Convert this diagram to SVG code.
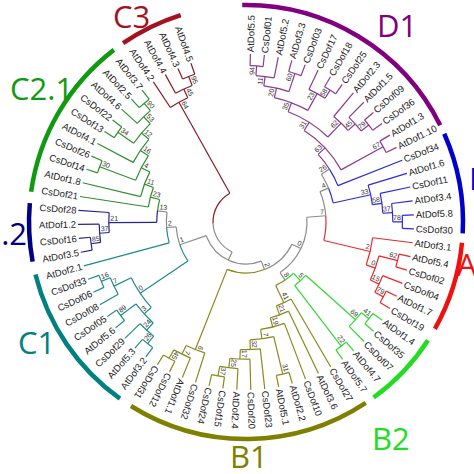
<svg xmlns="http://www.w3.org/2000/svg" width="474" height="474" viewBox="0 0 474 474">
<style>
.lf{font-family:"Liberation Sans",Arial,sans-serif;font-size:9.5px;fill:#222}
.le{text-anchor:end}
.bs{font-family:"Liberation Sans",Arial,sans-serif;font-size:7px;fill:#333;text-anchor:end}
.bl{text-anchor:start}
.gl{font-family:"Open Sans","Liberation Sans",sans-serif;font-size:31px}
circle{fill:none}
#connectors line,#connectors circle{stroke-width:1.2}
#markers circle{stroke-width:4.5}
.p{stroke:#8E3A8E}.b{stroke:#2B2BD9}.k{stroke:#8C8C8C}.r{stroke:#E8292B}.g{stroke:#33D633}
.o{stroke:#8A8A1C}.t{stroke:#1F8A8A}.n{stroke:#252590}.e{stroke:#2E8F2E}.c{stroke:#8B1A22}
</style>
<rect width="474" height="474" fill="#fff"/>
<g id="connectors" transform="translate(246,222)">
<g class="p">
<circle r="156.4" pathLength="360" stroke-dasharray="4.78 999" transform="rotate(-88.5)"/>
<circle r="146.8" pathLength="360" stroke-dasharray="7.17 999" transform="rotate(-86.11)"/>
<circle r="156.4" pathLength="360" stroke-dasharray="4.78 999" transform="rotate(-74.16)"/>
<circle r="137.2" pathLength="360" stroke-dasharray="10.755 999" transform="rotate(-82.525)"/>
<circle r="156.4" pathLength="360" stroke-dasharray="4.78 999" transform="rotate(-59.82)"/>
<circle r="146.8" pathLength="360" stroke-dasharray="7.17 999" transform="rotate(-64.6)"/>
<circle r="127.6" pathLength="360" stroke-dasharray="16.14 999" transform="rotate(-77.15)"/>
<circle r="156.4" pathLength="360" stroke-dasharray="4.78 999" transform="rotate(-40.7)"/>
<circle r="146.8" pathLength="360" stroke-dasharray="7.17 999" transform="rotate(-45.48)"/>
<circle r="137.2" pathLength="360" stroke-dasharray="8.36 999" transform="rotate(-50.26)"/>
<circle r="118" pathLength="360" stroke-dasharray="23 999" transform="rotate(-69.08)"/>
<circle r="156.4" pathLength="360" stroke-dasharray="4.78 999" transform="rotate(-31.14)"/>
<circle r="108.4" pathLength="360" stroke-dasharray="28.83 999" transform="rotate(-57.58)"/>
<circle r="98.8" pathLength="360" stroke-dasharray="10.79 999" transform="rotate(-43.16)"/>
<line y1="-156.4" y2="-168" transform="rotate(1.5)"/>
<line y1="-156.4" y2="-168" transform="rotate(6.28)"/>
<line y1="-146.8" y2="-156.4" transform="rotate(3.89)"/>
<line y1="-146.8" y2="-168" transform="rotate(11.06)"/>
<line y1="-156.4" y2="-168" transform="rotate(15.84)"/>
<line y1="-156.4" y2="-168" transform="rotate(20.62)"/>
<line y1="-137.2" y2="-146.8" transform="rotate(7.475)"/>
<line y1="-137.2" y2="-156.4" transform="rotate(18.23)"/>
<line y1="-156.4" y2="-168" transform="rotate(30.18)"/>
<line y1="-156.4" y2="-168" transform="rotate(34.96)"/>
<line y1="-146.8" y2="-168" transform="rotate(25.4)"/>
<line y1="-146.8" y2="-156.4" transform="rotate(32.57)"/>
<line y1="-127.6" y2="-137.2" transform="rotate(12.85)"/>
<line y1="-127.6" y2="-146.8" transform="rotate(28.99)"/>
<line y1="-156.4" y2="-168" transform="rotate(49.3)"/>
<line y1="-156.4" y2="-168" transform="rotate(54.08)"/>
<line y1="-146.8" y2="-168" transform="rotate(44.52)"/>
<line y1="-146.8" y2="-156.4" transform="rotate(51.69)"/>
<line y1="-137.2" y2="-168" transform="rotate(39.74)"/>
<line y1="-137.2" y2="-146.8" transform="rotate(48.1)"/>
<line y1="-118" y2="-127.6" transform="rotate(20.92)"/>
<line y1="-118" y2="-137.2" transform="rotate(43.92)"/>
<line y1="-156.4" y2="-168" transform="rotate(58.86)"/>
<line y1="-156.4" y2="-168" transform="rotate(63.64)"/>
<line y1="-108.4" y2="-118" transform="rotate(32.42)"/>
<line y1="-108.4" y2="-156.4" transform="rotate(61.25)"/>
<line y1="-98.8" y2="-108.4" transform="rotate(46.84)"/>
</g>
<g class="b">
<circle r="98.8" pathLength="360" stroke-dasharray="10.79 999" transform="rotate(-32.37)"/>
<circle r="156.4" pathLength="360" stroke-dasharray="4.78 999" transform="rotate(-2.46)"/>
<circle r="146.8" pathLength="360" stroke-dasharray="7.17 999" transform="rotate(-7.24)"/>
<circle r="137.2" pathLength="360" stroke-dasharray="8.37 999" transform="rotate(-12.02)"/>
<circle r="127.6" pathLength="360" stroke-dasharray="8.96 999" transform="rotate(-16.8)"/>
<circle r="89.2" pathLength="360" stroke-dasharray="10.02 999" transform="rotate(-22.34)"/>
<line y1="-98.8" y2="-168" transform="rotate(68.42)"/>
<line y1="-156.4" y2="-168" transform="rotate(87.54)"/>
<line y1="-156.4" y2="-168" transform="rotate(92.32)"/>
<line y1="-146.8" y2="-168" transform="rotate(82.76)"/>
<line y1="-146.8" y2="-156.4" transform="rotate(89.93)"/>
<line y1="-137.2" y2="-168" transform="rotate(77.98)"/>
<line y1="-137.2" y2="-146.8" transform="rotate(86.35)"/>
<line y1="-127.6" y2="-168" transform="rotate(73.2)"/>
<line y1="-127.6" y2="-137.2" transform="rotate(82.16)"/>
<line y1="-89.2" y2="-127.6" transform="rotate(77.68)"/>
</g>
<g class="k">
<circle r="89.2" pathLength="360" stroke-dasharray="10.03 999" transform="rotate(-32.37)"/>
<circle r="80" pathLength="360" stroke-dasharray="17.86 999" transform="rotate(-22.34)"/>
<circle r="61" pathLength="360" stroke-dasharray="60.5 999" transform="rotate(-4.48)"/>
<circle r="51" pathLength="360" stroke-dasharray="42.95 999" transform="rotate(25.77)"/>
<circle r="79.6" pathLength="360" stroke-dasharray="11.18 999" transform="rotate(176.02)"/>
<circle r="70" pathLength="360" stroke-dasharray="14.99 999" transform="rotate(161.03)"/>
<circle r="42" pathLength="360" stroke-dasharray="92.31 999" transform="rotate(68.72)"/>
<circle r="33" pathLength="360" stroke-dasharray="62.92 999" transform="rotate(114.88)"/>
<line y1="-89.2" y2="-98.8" transform="rotate(57.63)"/>
<line y1="-80" y2="-89.2" transform="rotate(67.66)"/>
<line y1="-61" y2="-80" transform="rotate(85.52)"/>
<line y1="-61" y2="-70" transform="rotate(146.02)"/>
<line y1="-51" y2="-61" transform="rotate(115.77)"/>
<line y1="-79.6" y2="-89.2" transform="rotate(277.2)"/>
<line y1="-70" y2="-79.6" transform="rotate(266.02)"/>
<line y1="-42" y2="-51" transform="rotate(158.72)"/>
<line y1="-42" y2="-70" transform="rotate(251.03)"/>
<line y1="-33" y2="-42" transform="rotate(204.88)"/>
</g>
<g class="r">
<circle r="80" pathLength="360" stroke-dasharray="17.86 999" transform="rotate(-4.48)"/>
<circle r="156.4" pathLength="360" stroke-dasharray="4.78 999" transform="rotate(11.88)"/>
<circle r="156.4" pathLength="360" stroke-dasharray="4.78 999" transform="rotate(26.22)"/>
<circle r="146.8" pathLength="360" stroke-dasharray="7.17 999" transform="rotate(21.44)"/>
<circle r="137.2" pathLength="360" stroke-dasharray="10.76 999" transform="rotate(14.27)"/>
<circle r="127.6" pathLength="360" stroke-dasharray="12.55 999" transform="rotate(7.1)"/>
<line y1="-80" y2="-127.6" transform="rotate(103.38)"/>
<line y1="-156.4" y2="-168" transform="rotate(101.88)"/>
<line y1="-156.4" y2="-168" transform="rotate(106.66)"/>
<line y1="-156.4" y2="-168" transform="rotate(116.22)"/>
<line y1="-156.4" y2="-168" transform="rotate(121)"/>
<line y1="-146.8" y2="-168" transform="rotate(111.44)"/>
<line y1="-146.8" y2="-156.4" transform="rotate(118.61)"/>
<line y1="-137.2" y2="-156.4" transform="rotate(104.27)"/>
<line y1="-137.2" y2="-146.8" transform="rotate(115.03)"/>
<line y1="-127.6" y2="-168" transform="rotate(97.1)"/>
<line y1="-127.6" y2="-137.2" transform="rotate(109.65)"/>
</g>
<g class="g">
<circle r="70" pathLength="360" stroke-dasharray="8.88 999" transform="rotate(47.14)"/>
<circle r="156.4" pathLength="360" stroke-dasharray="4.78 999" transform="rotate(35.78)"/>
<circle r="146.8" pathLength="360" stroke-dasharray="7.17 999" transform="rotate(38.17)"/>
<circle r="156.4" pathLength="360" stroke-dasharray="4.78 999" transform="rotate(50.12)"/>
<circle r="80" pathLength="360" stroke-dasharray="10.75 999" transform="rotate(41.76)"/>
<line y1="-70" y2="-80" transform="rotate(137.14)"/>
<line y1="-156.4" y2="-168" transform="rotate(125.78)"/>
<line y1="-156.4" y2="-168" transform="rotate(130.56)"/>
<line y1="-146.8" y2="-156.4" transform="rotate(128.17)"/>
<line y1="-146.8" y2="-168" transform="rotate(135.34)"/>
<line y1="-156.4" y2="-168" transform="rotate(140.12)"/>
<line y1="-156.4" y2="-168" transform="rotate(144.9)"/>
<line y1="-80" y2="-146.8" transform="rotate(131.76)"/>
<line y1="-80" y2="-156.4" transform="rotate(142.51)"/>
</g>
<g class="o">
<circle r="70" pathLength="360" stroke-dasharray="8.87 999" transform="rotate(56.02)"/>
<circle r="156.4" pathLength="360" stroke-dasharray="4.78 999" transform="rotate(97.92)"/>
<circle r="146.8" pathLength="360" stroke-dasharray="7.17 999" transform="rotate(93.14)"/>
<circle r="137.2" pathLength="360" stroke-dasharray="8.37 999" transform="rotate(88.36)"/>
<circle r="127.6" pathLength="360" stroke-dasharray="8.97 999" transform="rotate(83.58)"/>
<circle r="156.4" pathLength="360" stroke-dasharray="4.78 999" transform="rotate(74.02)"/>
<circle r="118" pathLength="360" stroke-dasharray="11.66 999" transform="rotate(76.41)"/>
<circle r="108.4" pathLength="360" stroke-dasharray="13 999" transform="rotate(69.24)"/>
<circle r="98.8" pathLength="360" stroke-dasharray="11.28 999" transform="rotate(64.46)"/>
<circle r="89.2" pathLength="360" stroke-dasharray="10.42 999" transform="rotate(59.68)"/>
<circle r="156.4" pathLength="360" stroke-dasharray="4.78 999" transform="rotate(117.04)"/>
<circle r="146.8" pathLength="360" stroke-dasharray="7.17 999" transform="rotate(112.26)"/>
<circle r="137.2" pathLength="360" stroke-dasharray="8.37 999" transform="rotate(107.48)"/>
<circle r="51" pathLength="360" stroke-dasharray="42.95 999" transform="rotate(68.72)"/>
<line y1="-70" y2="-89.2" transform="rotate(154.89)"/>
<line y1="-156.4" y2="-168" transform="rotate(187.92)"/>
<line y1="-156.4" y2="-168" transform="rotate(192.7)"/>
<line y1="-146.8" y2="-168" transform="rotate(183.14)"/>
<line y1="-146.8" y2="-156.4" transform="rotate(190.31)"/>
<line y1="-137.2" y2="-168" transform="rotate(178.36)"/>
<line y1="-137.2" y2="-146.8" transform="rotate(186.73)"/>
<line y1="-127.6" y2="-168" transform="rotate(173.58)"/>
<line y1="-127.6" y2="-137.2" transform="rotate(182.55)"/>
<line y1="-156.4" y2="-168" transform="rotate(164.02)"/>
<line y1="-156.4" y2="-168" transform="rotate(168.8)"/>
<line y1="-118" y2="-156.4" transform="rotate(166.41)"/>
<line y1="-118" y2="-127.6" transform="rotate(178.07)"/>
<line y1="-108.4" y2="-168" transform="rotate(159.24)"/>
<line y1="-108.4" y2="-118" transform="rotate(172.24)"/>
<line y1="-98.8" y2="-168" transform="rotate(154.46)"/>
<line y1="-98.8" y2="-108.4" transform="rotate(165.74)"/>
<line y1="-89.2" y2="-168" transform="rotate(149.68)"/>
<line y1="-89.2" y2="-98.8" transform="rotate(160.1)"/>
<line y1="-156.4" y2="-168" transform="rotate(207.04)"/>
<line y1="-156.4" y2="-168" transform="rotate(211.82)"/>
<line y1="-146.8" y2="-168" transform="rotate(202.26)"/>
<line y1="-146.8" y2="-156.4" transform="rotate(209.43)"/>
<line y1="-137.2" y2="-168" transform="rotate(197.48)"/>
<line y1="-137.2" y2="-146.8" transform="rotate(205.85)"/>
<line y1="-51" y2="-137.2" transform="rotate(201.67)"/>
</g>
<g class="t">
<circle r="156.4" pathLength="360" stroke-dasharray="4.78 999" transform="rotate(126.6)"/>
<circle r="146.8" pathLength="360" stroke-dasharray="7.17 999" transform="rotate(128.99)"/>
<circle r="156.4" pathLength="360" stroke-dasharray="4.78 999" transform="rotate(140.94)"/>
<circle r="137.2" pathLength="360" stroke-dasharray="10.75 999" transform="rotate(132.58)"/>
<circle r="156.4" pathLength="360" stroke-dasharray="4.78 999" transform="rotate(155.28)"/>
<circle r="146.8" pathLength="360" stroke-dasharray="7.17 999" transform="rotate(150.5)"/>
<circle r="127.6" pathLength="360" stroke-dasharray="16.13 999" transform="rotate(137.96)"/>
<circle r="79.6" pathLength="360" stroke-dasharray="11.18 999" transform="rotate(164.84)"/>
<circle r="70" pathLength="360" stroke-dasharray="15 999" transform="rotate(146.03)"/>
<line y1="-156.4" y2="-168" transform="rotate(216.6)"/>
<line y1="-156.4" y2="-168" transform="rotate(221.38)"/>
<line y1="-146.8" y2="-156.4" transform="rotate(218.99)"/>
<line y1="-146.8" y2="-168" transform="rotate(226.16)"/>
<line y1="-156.4" y2="-168" transform="rotate(230.94)"/>
<line y1="-156.4" y2="-168" transform="rotate(235.72)"/>
<line y1="-137.2" y2="-146.8" transform="rotate(222.58)"/>
<line y1="-137.2" y2="-156.4" transform="rotate(233.33)"/>
<line y1="-156.4" y2="-168" transform="rotate(245.28)"/>
<line y1="-156.4" y2="-168" transform="rotate(250.06)"/>
<line y1="-146.8" y2="-168" transform="rotate(240.5)"/>
<line y1="-146.8" y2="-156.4" transform="rotate(247.67)"/>
<line y1="-127.6" y2="-137.2" transform="rotate(227.96)"/>
<line y1="-127.6" y2="-146.8" transform="rotate(244.09)"/>
<line y1="-79.6" y2="-168" transform="rotate(254.84)"/>
<line y1="-70" y2="-127.6" transform="rotate(236.03)"/>
</g>
<g class="n">
<circle r="156.4" pathLength="360" stroke-dasharray="4.78 999" transform="rotate(169.62)"/>
<circle r="146.8" pathLength="360" stroke-dasharray="7.17 999" transform="rotate(172.01)"/>
<circle r="137.2" pathLength="360" stroke-dasharray="8.36 999" transform="rotate(175.6)"/>
<circle r="89.2" pathLength="360" stroke-dasharray="7.42 999" transform="rotate(179.78)"/>
<line y1="-156.4" y2="-168" transform="rotate(259.62)"/>
<line y1="-156.4" y2="-168" transform="rotate(264.4)"/>
<line y1="-146.8" y2="-156.4" transform="rotate(262.01)"/>
<line y1="-146.8" y2="-168" transform="rotate(269.18)"/>
<line y1="-137.2" y2="-146.8" transform="rotate(265.6)"/>
<line y1="-137.2" y2="-168" transform="rotate(273.96)"/>
<line y1="-89.2" y2="-137.2" transform="rotate(269.78)"/>
</g>
<g class="e">
<circle r="156.4" pathLength="360" stroke-dasharray="4.78 999" transform="rotate(198.3)"/>
<circle r="156.4" pathLength="360" stroke-dasharray="4.78 999" transform="rotate(212.64)"/>
<circle r="156.4" pathLength="360" stroke-dasharray="4.78 999" transform="rotate(226.98)"/>
<circle r="146.8" pathLength="360" stroke-dasharray="7.17 999" transform="rotate(222.2)"/>
<circle r="137.2" pathLength="360" stroke-dasharray="10.76 999" transform="rotate(215.03)"/>
<circle r="127.6" pathLength="360" stroke-dasharray="12.55 999" transform="rotate(207.86)"/>
<circle r="118" pathLength="360" stroke-dasharray="13.45 999" transform="rotate(200.69)"/>
<circle r="108.4" pathLength="360" stroke-dasharray="13.9 999" transform="rotate(193.52)"/>
<circle r="98.8" pathLength="360" stroke-dasharray="11.73 999" transform="rotate(188.74)"/>
<circle r="89.2" pathLength="360" stroke-dasharray="7.41 999" transform="rotate(187.2)"/>
<line y1="-156.4" y2="-168" transform="rotate(288.3)"/>
<line y1="-156.4" y2="-168" transform="rotate(293.08)"/>
<line y1="-156.4" y2="-168" transform="rotate(302.64)"/>
<line y1="-156.4" y2="-168" transform="rotate(307.42)"/>
<line y1="-156.4" y2="-168" transform="rotate(316.98)"/>
<line y1="-156.4" y2="-168" transform="rotate(321.76)"/>
<line y1="-146.8" y2="-168" transform="rotate(312.2)"/>
<line y1="-146.8" y2="-156.4" transform="rotate(319.37)"/>
<line y1="-137.2" y2="-156.4" transform="rotate(305.03)"/>
<line y1="-137.2" y2="-146.8" transform="rotate(315.79)"/>
<line y1="-127.6" y2="-168" transform="rotate(297.86)"/>
<line y1="-127.6" y2="-137.2" transform="rotate(310.41)"/>
<line y1="-118" y2="-156.4" transform="rotate(290.69)"/>
<line y1="-118" y2="-127.6" transform="rotate(304.14)"/>
<line y1="-108.4" y2="-168" transform="rotate(283.52)"/>
<line y1="-108.4" y2="-118" transform="rotate(297.42)"/>
<line y1="-98.8" y2="-168" transform="rotate(278.74)"/>
<line y1="-98.8" y2="-108.4" transform="rotate(290.47)"/>
<line y1="-89.2" y2="-98.8" transform="rotate(284.61)"/>
</g>
<g class="c">
<circle r="156.4" pathLength="360" stroke-dasharray="4.78 999" transform="rotate(246.1)"/>
<circle r="146.8" pathLength="360" stroke-dasharray="7.17 999" transform="rotate(241.32)"/>
<circle r="137.2" pathLength="360" stroke-dasharray="8.36 999" transform="rotate(236.54)"/>
<circle r="33" pathLength="360" stroke-dasharray="62.92 999" transform="rotate(177.8)"/>
<line y1="-156.4" y2="-168" transform="rotate(336.1)"/>
<line y1="-156.4" y2="-168" transform="rotate(340.88)"/>
<line y1="-146.8" y2="-168" transform="rotate(331.32)"/>
<line y1="-146.8" y2="-156.4" transform="rotate(338.49)"/>
<line y1="-137.2" y2="-168" transform="rotate(326.54)"/>
<line y1="-137.2" y2="-146.8" transform="rotate(334.9)"/>
<line y1="-33" y2="-137.2" transform="rotate(330.72)"/>
</g>
</g>
<g id="markers" transform="translate(246,222)">
<g id="clade-D1"><circle r="217" pathLength="360" stroke-dasharray="64.5 999" transform="rotate(-91)" stroke="#800080"/></g>
<g id="clade-D2"><circle r="217" pathLength="360" stroke-dasharray="27 999" transform="rotate(-24)" stroke="#0000CC"/></g>
<g id="clade-A"><circle r="217" pathLength="360" stroke-dasharray="24 999" transform="rotate(5.5)" stroke="#EE1111"/></g>
<g id="clade-B2"><circle r="217" pathLength="360" stroke-dasharray="21 999" transform="rotate(33)" stroke="#22DD22"/></g>
<g id="clade-B1"><circle r="217" pathLength="360" stroke-dasharray="65.5 999" transform="rotate(56.5)" stroke="#7F7F00"/></g>
<g id="clade-C1"><circle r="217" pathLength="360" stroke-dasharray="40.5 999" transform="rotate(125.5)" stroke="#008080"/></g>
<g id="clade-C2.2"><circle r="217" pathLength="360" stroke-dasharray="15.5 999" transform="rotate(169.5)" stroke="#000080"/></g>
<g id="clade-C2.1"><circle r="217" pathLength="360" stroke-dasharray="44.5 999" transform="rotate(188)" stroke="#119911"/></g>
<g id="clade-C3"><circle r="217" pathLength="360" stroke-dasharray="17 999" transform="rotate(235.5)" stroke="#A5121F"/></g>
</g>
<g id="clade-labels" class="gl">
<text x="377" y="37" fill="#800080">D1</text>
<text x="469" y="190" fill="#0000CC">D2</text>
<text x="457" y="276" fill="#EE1111">A</text>
<text x="372" y="450" fill="#22DD22">B2</text>
<text x="230" y="468" fill="#7F7F00">B1</text>
<text x="18" y="354" fill="#008080">C1</text>
<text x="27" y="245" fill="#000080" text-anchor="end">C2.2</text>
<text x="10" y="100" fill="#119911">C2.1</text>
<text x="113" y="28" fill="#A5121F">C3</text>
</g>
<g id="leaves" transform="translate(246,222)">
<g id="AtDof5.5"><text class="lf" dy="0.35em" transform="rotate(-88.5) translate(170 0)">AtDof5.5</text></g>
<g id="CsDof01"><text class="lf" dy="0.35em" transform="rotate(-83.72) translate(170 0)">CsDof01</text></g>
<g id="AtDof5.2"><text class="lf" dy="0.35em" transform="rotate(-78.94) translate(170 0)">AtDof5.2</text></g>
<g id="AtDof3.3"><text class="lf" dy="0.35em" transform="rotate(-74.16) translate(170 0)">AtDof3.3</text></g>
<g id="CsDof03"><text class="lf" dy="0.35em" transform="rotate(-69.38) translate(170 0)">CsDof03</text></g>
<g id="CsDof17"><text class="lf" dy="0.35em" transform="rotate(-64.6) translate(170 0)">CsDof17</text></g>
<g id="CsDof18"><text class="lf" dy="0.35em" transform="rotate(-59.82) translate(170 0)">CsDof18</text></g>
<g id="CsDof25"><text class="lf" dy="0.35em" transform="rotate(-55.04) translate(170 0)">CsDof25</text></g>
<g id="AtDof2.3"><text class="lf" dy="0.35em" transform="rotate(-50.26) translate(170 0)">AtDof2.3</text></g>
<g id="AtDof1.5"><text class="lf" dy="0.35em" transform="rotate(-45.48) translate(170 0)">AtDof1.5</text></g>
<g id="CsDof09"><text class="lf" dy="0.35em" transform="rotate(-40.7) translate(170 0)">CsDof09</text></g>
<g id="CsDof36"><text class="lf" dy="0.35em" transform="rotate(-35.92) translate(170 0)">CsDof36</text></g>
<g id="AtDof1.3"><text class="lf" dy="0.35em" transform="rotate(-31.14) translate(170 0)">AtDof1.3</text></g>
<g id="AtDof1.10"><text class="lf" dy="0.35em" transform="rotate(-26.36) translate(170 0)">AtDof1.10</text></g>
<g id="CsDof34"><text class="lf" dy="0.35em" transform="rotate(-21.58) translate(170 0)">CsDof34</text></g>
<g id="AtDof1.6"><text class="lf" dy="0.35em" transform="rotate(-16.8) translate(170 0)">AtDof1.6</text></g>
<g id="CsDof11"><text class="lf" dy="0.35em" transform="rotate(-12.02) translate(170 0)">CsDof11</text></g>
<g id="AtDof3.4"><text class="lf" dy="0.35em" transform="rotate(-7.24) translate(170 0)">AtDof3.4</text></g>
<g id="AtDof5.8"><text class="lf" dy="0.35em" transform="rotate(-2.46) translate(170 0)">AtDof5.8</text></g>
<g id="CsDof30"><text class="lf" dy="0.35em" transform="rotate(2.32) translate(170 0)">CsDof30</text></g>
<g id="AtDof3.1"><text class="lf" dy="0.35em" transform="rotate(7.1) translate(170 0)">AtDof3.1</text></g>
<g id="AtDof5.4"><text class="lf" dy="0.35em" transform="rotate(11.88) translate(170 0)">AtDof5.4</text></g>
<g id="CsDof02"><text class="lf" dy="0.35em" transform="rotate(16.66) translate(170 0)">CsDof02</text></g>
<g id="CsDof04"><text class="lf" dy="0.35em" transform="rotate(21.44) translate(170 0)">CsDof04</text></g>
<g id="AtDof1.7"><text class="lf" dy="0.35em" transform="rotate(26.22) translate(170 0)">AtDof1.7</text></g>
<g id="CsDof19"><text class="lf" dy="0.35em" transform="rotate(31) translate(170 0)">CsDof19</text></g>
<g id="AtDof1.4"><text class="lf" dy="0.35em" transform="rotate(35.78) translate(170 0)">AtDof1.4</text></g>
<g id="CsDof35"><text class="lf" dy="0.35em" transform="rotate(40.56) translate(170 0)">CsDof35</text></g>
<g id="CsDof07"><text class="lf" dy="0.35em" transform="rotate(45.34) translate(170 0)">CsDof07</text></g>
<g id="AtDof4.7"><text class="lf" dy="0.35em" transform="rotate(50.12) translate(170 0)">AtDof4.7</text></g>
<g id="AtDof5.7"><text class="lf" dy="0.35em" transform="rotate(54.9) translate(170 0)">AtDof5.7</text></g>
<g id="CsDof27"><text class="lf" dy="0.35em" transform="rotate(59.68) translate(170 0)">CsDof27</text></g>
<g id="AtDof3.6"><text class="lf" dy="0.35em" transform="rotate(64.46) translate(170 0)">AtDof3.6</text></g>
<g id="CsDof10"><text class="lf" dy="0.35em" transform="rotate(69.24) translate(170 0)">CsDof10</text></g>
<g id="AtDof2.2"><text class="lf" dy="0.35em" transform="rotate(74.02) translate(170 0)">AtDof2.2</text></g>
<g id="AtDof5.1"><text class="lf" dy="0.35em" transform="rotate(78.8) translate(170 0)">AtDof5.1</text></g>
<g id="CsDof23"><text class="lf" dy="0.35em" transform="rotate(83.58) translate(170 0)">CsDof23</text></g>
<g id="CsDof20"><text class="lf" dy="0.35em" transform="rotate(88.36) translate(170 0)">CsDof20</text></g>
<g id="AtDof2.4"><text class="lf" dy="0.35em" transform="rotate(93.14) translate(170 0)">AtDof2.4</text></g>
<g id="CsDof15"><text class="lf" dy="0.35em" transform="rotate(97.92) translate(170 0)">CsDof15</text></g>
<g id="CsDof24"><text class="lf" dy="0.35em" transform="rotate(102.7) translate(170 0)">CsDof24</text></g>
<g id="CsDof32"><text class="lf" dy="0.35em" transform="rotate(107.48) translate(170 0)">CsDof32</text></g>
<g id="AtDof1.1"><text class="lf" dy="0.35em" transform="rotate(112.26) translate(170 0)">AtDof1.1</text></g>
<g id="CsDof12"><text class="lf" dy="0.35em" transform="rotate(117.04) translate(170 0)">CsDof12</text></g>
<g id="CsDof31"><text class="lf" dy="0.35em" transform="rotate(121.82) translate(170 0)">CsDof31</text></g>
<g id="AtDof3.2"><text class="lf le" dy="0.35em" transform="rotate(-53.4) translate(-170 0)">AtDof3.2</text></g>
<g id="AtDof5.3"><text class="lf le" dy="0.35em" transform="rotate(-48.62) translate(-170 0)">AtDof5.3</text></g>
<g id="CsDof29"><text class="lf le" dy="0.35em" transform="rotate(-43.84) translate(-170 0)">CsDof29</text></g>
<g id="AtDof5.6"><text class="lf le" dy="0.35em" transform="rotate(-39.06) translate(-170 0)">AtDof5.6</text></g>
<g id="CsDof05"><text class="lf le" dy="0.35em" transform="rotate(-34.28) translate(-170 0)">CsDof05</text></g>
<g id="CsDof08"><text class="lf le" dy="0.35em" transform="rotate(-29.5) translate(-170 0)">CsDof08</text></g>
<g id="CsDof06"><text class="lf le" dy="0.35em" transform="rotate(-24.72) translate(-170 0)">CsDof06</text></g>
<g id="CsDof33"><text class="lf le" dy="0.35em" transform="rotate(-19.94) translate(-170 0)">CsDof33</text></g>
<g id="AtDof2.1"><text class="lf le" dy="0.35em" transform="rotate(-15.16) translate(-170 0)">AtDof2.1</text></g>
<g id="AtDof3.5"><text class="lf le" dy="0.35em" transform="rotate(-10.38) translate(-170 0)">AtDof3.5</text></g>
<g id="CsDof16"><text class="lf le" dy="0.35em" transform="rotate(-5.6) translate(-170 0)">CsDof16</text></g>
<g id="AtDof1.2"><text class="lf le" dy="0.35em" transform="rotate(-0.82) translate(-170 0)">AtDof1.2</text></g>
<g id="CsDof28"><text class="lf le" dy="0.35em" transform="rotate(3.96) translate(-170 0)">CsDof28</text></g>
<g id="CsDof21"><text class="lf le" dy="0.35em" transform="rotate(8.74) translate(-170 0)">CsDof21</text></g>
<g id="AtDof1.8"><text class="lf le" dy="0.35em" transform="rotate(13.52) translate(-170 0)">AtDof1.8</text></g>
<g id="CsDof14"><text class="lf le" dy="0.35em" transform="rotate(18.3) translate(-170 0)">CsDof14</text></g>
<g id="CsDof26"><text class="lf le" dy="0.35em" transform="rotate(23.08) translate(-170 0)">CsDof26</text></g>
<g id="AtDof4.1"><text class="lf le" dy="0.35em" transform="rotate(27.86) translate(-170 0)">AtDof4.1</text></g>
<g id="CsDof13"><text class="lf le" dy="0.35em" transform="rotate(32.64) translate(-170 0)">CsDof13</text></g>
<g id="CsDof22"><text class="lf le" dy="0.35em" transform="rotate(37.42) translate(-170 0)">CsDof22</text></g>
<g id="AtDof4.6"><text class="lf le" dy="0.35em" transform="rotate(42.2) translate(-170 0)">AtDof4.6</text></g>
<g id="AtDof2.5"><text class="lf le" dy="0.35em" transform="rotate(46.98) translate(-170 0)">AtDof2.5</text></g>
<g id="AtDof3.7"><text class="lf le" dy="0.35em" transform="rotate(51.76) translate(-170 0)">AtDof3.7</text></g>
<g id="AtDof4.2"><text class="lf le" dy="0.35em" transform="rotate(56.54) translate(-170 0)">AtDof4.2</text></g>
<g id="AtDof4.4"><text class="lf le" dy="0.35em" transform="rotate(61.32) translate(-170 0)">AtDof4.4</text></g>
<g id="AtDof4.3"><text class="lf le" dy="0.35em" transform="rotate(66.1) translate(-170 0)">AtDof4.3</text></g>
<g id="AtDof4.5"><text class="lf le" dy="0.35em" transform="rotate(70.88) translate(-170 0)">AtDof4.5</text></g>
</g>
<g id="bootstrap" transform="translate(246,222)">
<g id="n-d94"><text class="bs" transform="rotate(-86.11) translate(154.9 -1.8)">94</text></g>
<g id="n-d11"><text class="bs" transform="rotate(-82.525) translate(145.3 -1.8)">11</text></g>
<g id="n-d60"><text class="bs" transform="rotate(-71.77) translate(154.9 -1.8)">60</text></g>
<g id="n-d20"><text class="bs" transform="rotate(-77.15) translate(135.7 -1.8)">20</text></g>
<g id="n-d58"><text class="bs" transform="rotate(-57.43) translate(154.9 -1.8)">58</text></g>
<g id="n-d23"><text class="bs" transform="rotate(-61.01) translate(145.3 -1.8)">23</text></g>
<g id="n-d35"><text class="bs" transform="rotate(-69.08) translate(126.1 -1.8)">35</text></g>
<g id="n-d79"><text class="bs" transform="rotate(-38.31) translate(154.9 -1.8)">79</text></g>
<g id="n-d45"><text class="bs" transform="rotate(-41.9) translate(145.3 -1.8)">45</text></g>
<g id="n-d62"><text class="bs" transform="rotate(-46.08) translate(135.7 -1.8)">62</text></g>
<g id="n-d31"><text class="bs" transform="rotate(-57.58) translate(116.5 -1.8)">31</text></g>
<g id="n-d67"><text class="bs" transform="rotate(-28.75) translate(154.9 -1.8)">67</text></g>
<g id="n-d63"><text class="bs" transform="rotate(-43.16) translate(106.9 -1.8)">63</text></g>
<g id="n-d26"><text class="bs" transform="rotate(-32.37) translate(97.3 -1.8)">26</text></g>
<g id="n-e78"><text class="bs" transform="rotate(-0.07) translate(154.9 -1.8)">78</text></g>
<g id="n-e37"><text class="bs" transform="rotate(-3.65) translate(145.3 -1.8)">37</text></g>
<g id="n-e58"><text class="bs" transform="rotate(-7.84) translate(135.7 -1.8)">58</text></g>
<g id="n-e33"><text class="bs" transform="rotate(-12.32) translate(126.1 -1.8)">33</text></g>
<g id="n-e4"><text class="bs" transform="rotate(-22.34) translate(87.7 -1.8)">4</text></g>
<g id="n-a62"><text class="bs" transform="rotate(14.27) translate(154.9 -1.8)">62</text></g>
<g id="n-a79"><text class="bs" transform="rotate(28.61) translate(154.9 -1.8)">79</text></g>
<g id="n-a15"><text class="bs" transform="rotate(25.03) translate(145.3 -1.8)">15</text></g>
<g id="n-a0"><text class="bs" transform="rotate(19.65) translate(135.7 -1.8)">0</text></g>
<g id="n-a2"><text class="bs" transform="rotate(13.38) translate(126.1 -1.8)">2</text></g>
<g id="n-a7"><text class="bs" transform="rotate(-4.48) translate(78.5 -1.8)">7</text></g>
<g id="n-b41"><text class="bs" transform="rotate(38.17) translate(154.9 -1.8)">41</text></g>
<g id="n-b69"><text class="bs" transform="rotate(41.76) translate(145.3 -1.8)">69</text></g>
<g id="n-b22"><text class="bs" transform="rotate(52.51) translate(154.9 -1.8)">22</text></g>
<g id="n-b5"><text class="bs" transform="rotate(47.14) translate(78.5 -1.8)">5</text></g>
<g id="n-l37"><text class="bs" transform="rotate(100.31) translate(154.9 -1.8)">37</text></g>
<g id="n-l25"><text class="bs" transform="rotate(96.73) translate(145.3 -1.8)">25</text></g>
<g id="n-l17"><text class="bs" transform="rotate(92.55) translate(135.7 -1.8)">17</text></g>
<g id="n-l32"><text class="bs" transform="rotate(88.07) translate(126.1 -1.8)">32</text></g>
<g id="n-l31"><text class="bs" transform="rotate(76.41) translate(154.9 -1.8)">31</text></g>
<g id="n-l7"><text class="bs" transform="rotate(82.24) translate(116.5 -1.8)">7</text></g>
<g id="n-l19"><text class="bs" transform="rotate(75.74) translate(106.9 -1.8)">19</text></g>
<g id="n-l21"><text class="bs" transform="rotate(70.1) translate(97.3 -1.8)">21</text></g>
<g id="n-l41"><text class="bs" transform="rotate(64.89) translate(87.7 -1.8)">41</text></g>
<g id="n-l8"><text class="bs" transform="rotate(56.02) translate(68.5 -1.8)">8</text></g>
<g id="n-r0"><text class="bs" transform="rotate(25.77) translate(59.5 -1.8)">0</text></g>
<g id="n-m45"><text class="bs" transform="rotate(119.43) translate(154.9 -1.8)">45</text></g>
<g id="n-m7"><text class="bs" transform="rotate(115.85) translate(145.3 -1.8)">7</text></g>
<g id="n-m6"><text class="bs" transform="rotate(111.67) translate(135.7 -1.8)">6</text></g>
<g id="n-r2"><text class="bs" transform="rotate(68.72) translate(49.5 -1.8)">2</text></g>
<g id="n-c26"><text class="bs bl" transform="rotate(-51.01) translate(-154.9 -1.8)">26</text></g>
<g id="n-c24"><text class="bs bl" transform="rotate(-47.42) translate(-145.3 -1.8)">24</text></g>
<g id="n-c89"><text class="bs bl" transform="rotate(-36.67) translate(-154.9 -1.8)">89</text></g>
<g id="n-c3"><text class="bs bl" transform="rotate(-42.04) translate(-135.7 -1.8)">3</text></g>
<g id="n-c16"><text class="bs bl" transform="rotate(-22.33) translate(-154.9 -1.8)">16</text></g>
<g id="n-c7"><text class="bs bl" transform="rotate(-25.91) translate(-145.3 -1.8)">7</text></g>
<g id="n-c0"><text class="bs bl" transform="rotate(-33.97) translate(-126.1 -1.8)">0</text></g>
<g id="n-s85"><text class="bs bl" transform="rotate(-7.99) translate(-154.9 -1.8)">85</text></g>
<g id="n-s37"><text class="bs bl" transform="rotate(-4.4) translate(-145.3 -1.8)">37</text></g>
<g id="n-s21"><text class="bs bl" transform="rotate(-0.22) translate(-135.7 -1.8)">21</text></g>
<g id="n-f30"><text class="bs bl" transform="rotate(20.69) translate(-154.9 -1.8)">30</text></g>
<g id="n-f34"><text class="bs bl" transform="rotate(35.03) translate(-154.9 -1.8)">34</text></g>
<g id="n-f90"><text class="bs bl" transform="rotate(49.37) translate(-154.9 -1.8)">90</text></g>
<g id="n-f53"><text class="bs bl" transform="rotate(45.79) translate(-145.3 -1.8)">53</text></g>
<g id="n-f12"><text class="bs bl" transform="rotate(40.41) translate(-135.7 -1.8)">12</text></g>
<g id="n-f16"><text class="bs bl" transform="rotate(34.14) translate(-126.1 -1.8)">16</text></g>
<g id="n-f4"><text class="bs bl" transform="rotate(27.42) translate(-116.5 -1.8)">4</text></g>
<g id="n-f11"><text class="bs bl" transform="rotate(20.47) translate(-106.9 -1.8)">11</text></g>
<g id="n-f23"><text class="bs bl" transform="rotate(14.61) translate(-97.3 -1.8)">23</text></g>
<g id="n-x13"><text class="bs bl" transform="rotate(7.2) translate(-87.7 -1.8)">13</text></g>
<g id="n-x2"><text class="bs bl" transform="rotate(-3.98) translate(-78.1 -1.8)">2</text></g>
<g id="n-x1"><text class="bs bl" transform="rotate(-18.97) translate(-68.5 -1.8)">1</text></g>
<g id="n-h95"><text class="bs bl" transform="rotate(68.49) translate(-154.9 -1.8)">95</text></g>
<g id="n-h45"><text class="bs bl" transform="rotate(64.9) translate(-145.3 -1.8)">45</text></g>
<g id="n-h64"><text class="bs bl" transform="rotate(60.72) translate(-135.7 -1.8)">64</text></g>
</g>
</svg>
